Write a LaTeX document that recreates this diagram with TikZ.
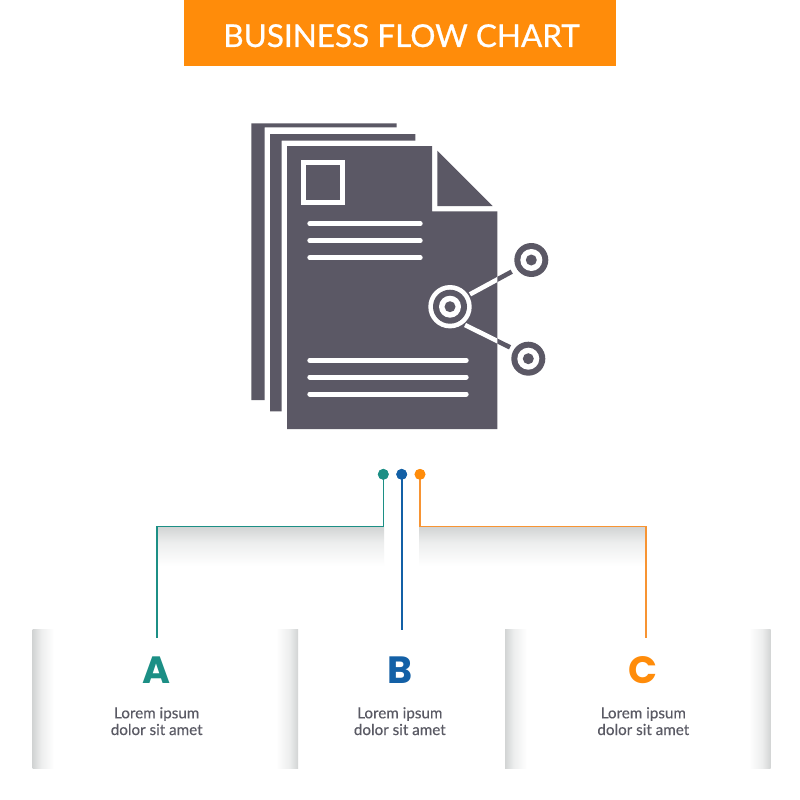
\documentclass[tikz,border=0pt]{standalone}
\usepackage{fontspec}
\setmainfont{Lato}
\newfontfamily\heavyfont{Poppins}
\newfontfamily\titlefont[FakeBold=0.7]{Lato}
\newfontfamily\bodyfont[FakeBold=0.25]{Lato}
\definecolor{icondark}{HTML}{5B5865}
\definecolor{bannerorange}{HTML}{FF8C0A}
\definecolor{tealc}{HTML}{1C8F85}
\definecolor{bluec}{HTML}{1360A6}
\definecolor{orangec}{HTML}{F79433}
\definecolor{textgray}{HTML}{5A5A64}
\definecolor{shadegray}{HTML}{D2D4D4}
\definecolor{shademid}{HTML}{EDEEEE}
\pgfdeclareverticalshading{fadedown}{100bp}{color(0bp)=(white); color(25bp)=(white); color(55bp)=(shademid); color(75bp)=(shadegray); color(100bp)=(shadegray)}
\pgfdeclarehorizontalshading{faderight}{100bp}{color(0bp)=(shadegray); color(25bp)=(shadegray); color(45bp)=(shademid); color(75bp)=(white); color(100bp)=(white)}
\pgfdeclarehorizontalshading{fadeleft}{100bp}{color(0bp)=(white); color(25bp)=(white); color(55bp)=(shademid); color(75bp)=(shadegray); color(100bp)=(shadegray)}
\tikzset{
  icon/.style={fill=icondark,draw=none},
  whitebar/.style={draw=white,line width=5pt,line cap=round},
  link/.style={line width=4.6pt},
  shadowdown/.style={shading=fadedown,draw=none},
  shadowright/.style={shading=faderight,draw=none},
  shadowleft/.style={shading=fadeleft,draw=none},
  dot/.style={circle,inner sep=0pt,minimum size=10.8pt,draw=none},
  wire/.style={line width=1.6pt},
  letter/.style={anchor=base,font=\heavyfont\bfseries\fontsize{38}{38}\selectfont},
  body/.style={anchor=base,text=textgray,font=\bodyfont\fontsize{15.2}{15.2}\selectfont,inner sep=0pt},
  outerpt/.style={circle,fill=icondark,inner sep=0pt,minimum size=34pt},
  ringw/.style={circle,fill=white,inner sep=0pt,minimum size=22pt},
  dotd/.style={circle,fill=icondark,inner sep=0pt,minimum size=11pt}
}
\begin{document}
\begin{tikzpicture}[x=1pt,y=-1pt]
\useasboundingbox (0,0) rectangle (800,800);
\fill[white] (0,0) rectangle (800,800);

% banner
\node[fill=bannerorange,minimum width=432pt,minimum height=66pt,inner sep=0pt,anchor=north west] (banner) at (184,0) {};
\node[text=white,font=\titlefont\fontsize{31.5}{32}\selectfont,inner sep=0pt,anchor=base] (title) at (401.5,47) {BUSINESS FLOW CHART};

% stacked pages
\fill[icon] (251.3,123.3) -- (396.7,123.3) -- (396.7,127.3) -- (264.7,127.3) -- (264.7,400) -- (251.3,400) -- cycle;
\fill[icon] (270,134) -- (415.3,134) -- (415.3,140.7) -- (281.7,140.7) -- (281.7,411.3) -- (270,411.3) -- cycle;
\fill[icon] (287,146) -- (432,146) -- (432,211.3) -- (497.3,211.3) -- (497.3,429) -- (287,429) -- cycle;
\fill[icon] (437.3,150.7) -- (492.7,206) -- (437.3,206) -- cycle;

% white square and text lines
\draw[white,line width=5.3pt] (303.3,162.7) rectangle (342.4,202.5);
\draw[whitebar] (309.8,223.7) -- (420.2,223.7);
\draw[whitebar] (309.8,240.7) -- (420.2,240.7);
\draw[whitebar] (309.8,257.7) -- (420.2,257.7);
\draw[whitebar] (309.8,360.3) -- (466.2,360.3);
\draw[whitebar] (309.8,377) -- (466.2,377);
\draw[whitebar] (309.8,394) -- (466.2,394);

% share links
\coordinate (la) at (470,294.3);
\coordinate (lb) at (511.7,271.7);
\coordinate (lc) at (465,325);
\coordinate (ld) at (510,347.3);
\draw[icondark,link] (la) -- (lb);
\draw[icondark,link] (lc) -- (ld);
\begin{scope}
\clip (287,211.3) rectangle (497.3,429);
\draw[white,link] (la) -- (lb);
\draw[white,link] (lc) -- (ld);
\end{scope}

% share circles
\node[circle,fill=white,inner sep=0pt,minimum size=43.4pt] (hub) at (450,306.7) {};
\node[outerpt] (hubring) at (450,306.7) {};
\node[ringw] (hubwhite) at (450,306.7) {};
\node[dotd] (hubdot) at (450,306.7) {};
\node[outerpt] (topring) at (531.3,260) {};
\node[ringw] (topwhite) at (531.3,260) {};
\node[dotd] (topdot) at (531.3,260) {};
\node[outerpt] (botring) at (528.3,358.7) {};
\node[ringw] (botwhite) at (528.3,358.7) {};
\node[dotd] (botdot) at (528.3,358.7) {};

% shadows under the wires
\shade[shadowdown] (157,527) rectangle (384,566);
\shade[shadowdown] (419,527) rectangle (645.7,566);

% box shadows
\shade[shadowright] (32.7,629.3) rectangle (54,768.7);
\shade[shadowleft] (276,629.3) rectangle (298,768.7);
\shade[shadowright] (505,629.3) rectangle (527,768.7);
\shade[shadowleft] (749,629.3) rectangle (770.7,768.7);

% connectors
\node[dot,fill=tealc] (dA) at (383.3,474.3) {};
\node[dot,fill=bluec] (dB) at (401.7,474.3) {};
\node[dot,fill=bannerorange] (dC) at (420,474.3) {};
\coordinate (cA) at (383.3,526.3);
\coordinate (eA) at (157,526.3);
\coordinate (fA) at (157,638);
\coordinate (fB) at (401.7,629.5);
\coordinate (cC) at (420,526.3);
\coordinate (eC) at (645.7,526.3);
\coordinate (fC) at (645.7,638);
\draw[wire,tealc] (dA.center) -- (cA) -- (eA) -- (fA);
\draw[wire,bluec] (dB.center) -- (fB);
\draw[wire,orangec] (dC.center) -- (cC) -- (eC) -- (fC);
\node[dot,fill=tealc] at (dA) {};
\node[dot,fill=bluec] at (dB) {};
\node[dot,fill=bannerorange] at (dC) {};

% letters
\node[letter,text=tealc,inner sep=0pt] (A) at (156.7,683.3) {A};
\node[letter,text=bluec,inner sep=0pt] (B) at (400.5,683.3) {B};
\node[letter,text=bannerorange,inner sep=0pt] (C) at (643.3,683.3) {C};

% captions
\node[body] (t1a) at (156.7,718.3) {Lorem ipsum};
\node[body] (t1b) at (156.7,735) {dolor sit amet};
\node[body] (t2a) at (399.8,718.3) {Lorem ipsum};
\node[body] (t2b) at (399.8,735) {dolor sit amet};
\node[body] (t3a) at (643.3,718.3) {Lorem ipsum};
\node[body] (t3b) at (643.3,735) {dolor sit amet};
\end{tikzpicture}
\end{document}
